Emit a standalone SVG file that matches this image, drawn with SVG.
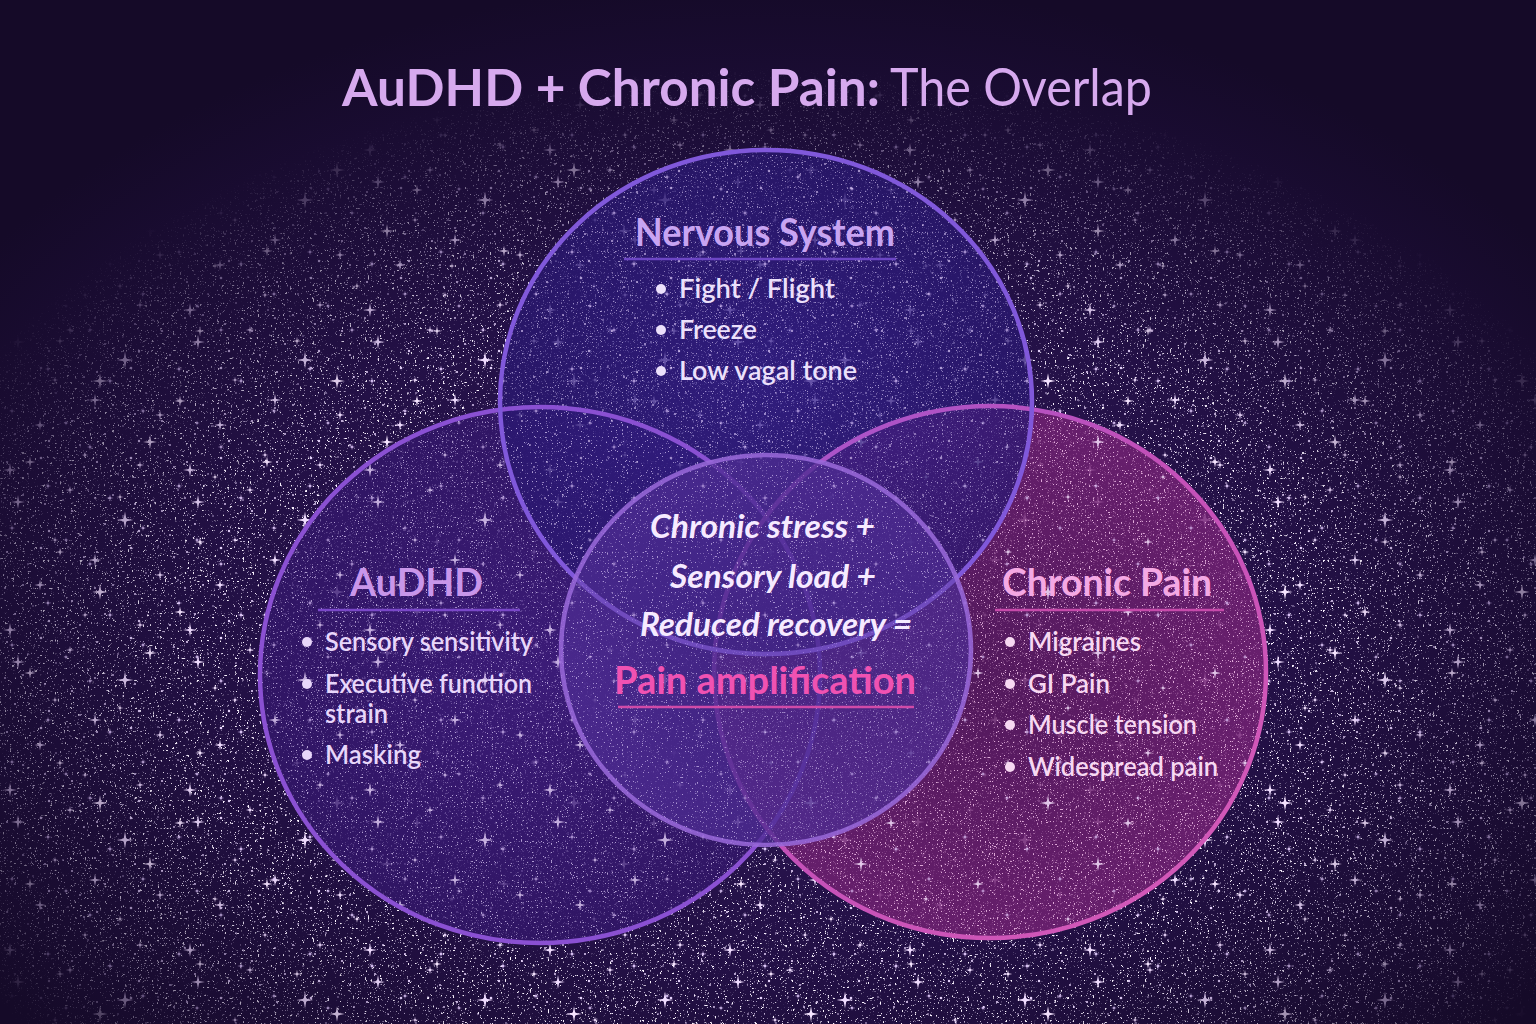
<svg xmlns="http://www.w3.org/2000/svg" xmlns:xlink="http://www.w3.org/1999/xlink" width="1536" height="1024" viewBox="0 0 1536 1024">
<style>
text{font-family:Lato,"Open Sans","Liberation Sans",sans-serif;}
.title{font-size:52px;fill:#d6a9ee;}
.head{font-size:38px;font-weight:700;}
.item{font-size:26px;font-weight:600;}
.mid{font-size:32px;font-weight:700;font-style:italic;fill:#f6eaff;}
.outline{fill:none;stroke-width:4.5;}
</style>
<defs>
  <radialGradient id="bg" cx="0.5" cy="0.6" r="0.62">
    <stop offset="0" stop-color="#2e1856"/>
    <stop offset="0.55" stop-color="#231046"/>
    <stop offset="1" stop-color="#150a28"/>
  </radialGradient>
  <radialGradient id="fade" cx="0.5" cy="0.66" r="0.62">
    <stop offset="0" stop-color="#fff"/>
    <stop offset="0.6" stop-color="#fff"/>
    <stop offset="0.8" stop-color="#888"/>
    <stop offset="0.96" stop-color="#000"/>
  </radialGradient>
  <mask id="starMask"><rect width="1536" height="1024" fill="url(#fade)"/></mask>

  <filter id="glitBg" filterUnits="userSpaceOnUse" x="0" y="0" width="1536" height="1024">
    <feTurbulence type="fractalNoise" baseFrequency="0.7" numOctaves="2" seed="3"/>
    <feColorMatrix type="matrix" values="0 0 0 0 0.86  0 0 0 0 0.76  0 0 0 0 1  12 0 0 0 -8.2"/>
  </filter>
  <filter id="glitCoarse" filterUnits="userSpaceOnUse" x="0" y="0" width="1536" height="1024">
    <feTurbulence type="fractalNoise" baseFrequency="0.4" numOctaves="2" seed="41"/>
    <feColorMatrix type="matrix" values="0 0 0 0 0.96  0 0 0 0 0.9  0 0 0 0 1  16 0 0 0 -11.2"/>
  </filter>
  <filter id="glitPurple" filterUnits="userSpaceOnUse" x="0" y="0" width="1536" height="1024">
    <feTurbulence type="fractalNoise" baseFrequency="0.8" numOctaves="2" seed="17"/>
    <feColorMatrix type="matrix" values="0 0 0 0 0.8  0 0 0 0 0.68  0 0 0 0 1  12 0 0 0 -8.0"/>
  </filter>
  <filter id="glitPink" filterUnits="userSpaceOnUse" x="0" y="0" width="1536" height="1024">
    <feTurbulence type="fractalNoise" baseFrequency="0.75" numOctaves="2" seed="29"/>
    <feColorMatrix type="matrix" values="0 0 0 0 1  0 0 0 0 0.62  0 0 0 0 0.92  12 0 0 0 -7.8"/>
  </filter>

  <g id="sp">
    <path d="M0,-7 L1.1,-1.1 L7,0 L1.1,1.1 L0,7 L-1.1,1.1 L-7,0 L-1.1,-1.1Z"/>
    <circle r="1.8"/>
  </g>
  <pattern id="sparkA" patternUnits="userSpaceOnUse" width="180" height="160">
    <g fill="#f0dcff">
      <use href="#sp" transform="translate(18,22) scale(1)"/>
      <use href="#sp" transform="translate(70,10) scale(0.6)"/>
      <use href="#sp" transform="translate(125,40) scale(1.2)"/>
      <use href="#sp" transform="translate(160,95) scale(0.7)"/>
      <use href="#sp" transform="translate(95,80) scale(0.9)"/>
      <use href="#sp" transform="translate(40,105) scale(0.8)"/>
      <use href="#sp" transform="translate(140,145) scale(0.6)"/>
      <use href="#sp" transform="translate(10,150) scale(1)"/>
      <use href="#sp" transform="translate(85,135) scale(0.5)"/>
      <use href="#sp" transform="translate(55,60) scale(0.5)"/>
    </g>
  </pattern>
  <pattern id="sparkB" patternUnits="userSpaceOnUse" width="237" height="211">
    <g fill="#f6e4ff">
      <use href="#sp" transform="translate(30,40) scale(0.8)"/>
      <use href="#sp" transform="translate(150,20) scale(1)"/>
      <use href="#sp" transform="translate(200,120) scale(0.7)"/>
      <use href="#sp" transform="translate(100,170) scale(1.1)"/>
      <use href="#sp" transform="translate(60,130) scale(0.6)"/>
      <use href="#sp" transform="translate(180,190) scale(0.8)"/>
      <use href="#sp" transform="translate(120,75) scale(0.55)"/>
      <use href="#sp" transform="translate(215,55) scale(0.5)"/>
    </g>
  </pattern>
  <pattern id="sparkC" patternUnits="userSpaceOnUse" width="131" height="117">
    <g fill="#e4ccff">
      <use href="#sp" transform="translate(12,60) scale(0.45)"/>
      <use href="#sp" transform="translate(48,18) scale(0.5)"/>
      <use href="#sp" transform="translate(90,96) scale(0.45)"/>
      <use href="#sp" transform="translate(110,30) scale(0.55)"/>
      <use href="#sp" transform="translate(66,72) scale(0.4)"/>
    </g>
  </pattern>
  <pattern id="dots" patternUnits="userSpaceOnUse" width="90" height="90">
    <g fill="#e6d2fb">
      <circle cx="7" cy="12" r="1.1"/><circle cx="23" cy="45" r="0.9"/><circle cx="41" cy="8" r="1.3"/>
      <circle cx="56" cy="33" r="0.8"/><circle cx="72" cy="61" r="1.1"/><circle cx="84" cy="17" r="0.9"/>
      <circle cx="15" cy="74" r="1"/><circle cx="33" cy="66" r="0.7"/><circle cx="49" cy="81" r="1.2"/>
      <circle cx="63" cy="50" r="0.8"/><circle cx="80" cy="85" r="0.9"/><circle cx="28" cy="24" r="0.8"/>
      <circle cx="5" cy="48" r="0.9"/><circle cx="68" cy="7" r="0.7"/><circle cx="45" cy="54" r="1"/>
      <circle cx="88" cy="40" r="0.8"/>
    </g>
  </pattern>

  <ellipse id="eTop" cx="766" cy="402" rx="266" ry="252"/>
  <ellipse id="eLeft" cx="540" cy="675" rx="280" ry="268"/>
  <ellipse id="eRight" cx="990" cy="672" rx="276" ry="266"/>
  <ellipse id="eCenter" cx="766" cy="650" rx="205" ry="195"/>
  <clipPath id="cTop"><use href="#eTop"/></clipPath>
  <clipPath id="cLeft"><use href="#eLeft"/></clipPath>
  <clipPath id="cRight"><use href="#eRight"/></clipPath>
  <clipPath id="cCenter"><use href="#eCenter"/></clipPath>

  <radialGradient id="gTop" cx="0.5" cy="0.45" r="0.6">
    <stop offset="0" stop-color="#33208e"/>
    <stop offset="1" stop-color="#27166c"/>
  </radialGradient>
  <radialGradient id="gLeft" cx="0.5" cy="0.5" r="0.6">
    <stop offset="0" stop-color="#401d82"/>
    <stop offset="1" stop-color="#301566"/>
  </radialGradient>
  <radialGradient id="gRight" cx="0.45" cy="0.5" r="0.6">
    <stop offset="0" stop-color="#5a195e"/>
    <stop offset="1" stop-color="#7a2378"/>
  </radialGradient>
  <radialGradient id="gCenter" cx="0.5" cy="0.5" r="0.6">
    <stop offset="0" stop-color="#44278a"/>
    <stop offset="1" stop-color="#4e2c92"/>
  </radialGradient>
  <linearGradient id="sRight" x1="0" y1="0" x2="1" y2="1">
    <stop offset="0" stop-color="#a055d0"/>
    <stop offset="0.45" stop-color="#c24fb8"/>
    <stop offset="1" stop-color="#d85ab8"/>
  </linearGradient>
</defs>

<!-- background -->
<rect width="1536" height="1024" fill="url(#bg)"/>
<g mask="url(#starMask)">
  <rect width="1536" height="1024" filter="url(#glitBg)" opacity="0.75"/>
  <rect width="1536" height="1024" filter="url(#glitCoarse)"/>
  <rect width="1536" height="1024" fill="url(#dots)"/>
  <rect width="1536" height="1024" fill="url(#sparkA)"/>
  <rect width="1536" height="1024" fill="url(#sparkB)"/>
  <rect width="1536" height="1024" fill="url(#sparkC)"/>
</g>

<!-- title -->
<g id="title">
  <text class="title" x="342" y="106" font-weight="700" textLength="538" lengthAdjust="spacingAndGlyphs">AuDHD + Chronic Pain:</text>
  <text class="title" x="890" y="106" font-weight="400" textLength="262" lengthAdjust="spacingAndGlyphs">The Overlap</text>
</g>

<!-- nodes -->
<g id="node-audhd">
  <use href="#eLeft" fill="url(#gLeft)" opacity="0.8"/>
  <g clip-path="url(#cLeft)">
    <rect x="250" y="400" width="580" height="550" filter="url(#glitPurple)" opacity="0.7"/>
    <rect x="250" y="400" width="580" height="550" fill="url(#sparkA)" opacity="0.7"/>
    <rect x="250" y="400" width="580" height="550" fill="url(#sparkC)" opacity="0.6"/>
  </g>
  <text class="head" x="350" y="596" fill="#c996ea" textLength="133" lengthAdjust="spacingAndGlyphs">AuDHD</text>
  <line x1="318" y1="610" x2="520" y2="610" stroke="#7a48c8" stroke-width="2.5"/>
  <g fill="#e8d6fa">
    <circle cx="307" cy="642" r="5"/><circle cx="307" cy="684" r="5"/><circle cx="307" cy="755" r="5"/>
    <text class="item" x="325" y="651" textLength="208" lengthAdjust="spacingAndGlyphs">Sensory sensitivity</text>
    <text class="item" x="325" y="693" textLength="207" lengthAdjust="spacingAndGlyphs">Executive function</text>
    <text class="item" x="325" y="723" textLength="63" lengthAdjust="spacingAndGlyphs">strain</text>
    <text class="item" x="325" y="764" textLength="96" lengthAdjust="spacingAndGlyphs">Masking</text>
  </g>
</g>

<g id="node-chronic-pain">
  <use href="#eRight" fill="url(#gRight)" opacity="0.82"/>
  <g clip-path="url(#cRight)">
    <rect x="710" y="400" width="560" height="545" filter="url(#glitPink)" opacity="0.8"/>
    <rect x="710" y="400" width="560" height="545" fill="url(#sparkB)" opacity="0.8"/>
    <rect x="710" y="400" width="560" height="545" fill="url(#sparkC)" opacity="0.7"/>
  </g>
  <text class="head" x="1002" y="596" fill="#f4a8e4" textLength="210" lengthAdjust="spacingAndGlyphs">Chronic Pain</text>
  <line x1="995" y1="610" x2="1224" y2="610" stroke="#c64aaa" stroke-width="2.5"/>
  <g fill="#f7d8f2">
    <circle cx="1010" cy="642" r="5"/><circle cx="1010" cy="684" r="5"/><circle cx="1010" cy="725" r="5"/><circle cx="1010" cy="767" r="5"/>
    <text class="item" x="1028" y="651" textLength="113" lengthAdjust="spacingAndGlyphs">Migraines</text>
    <text class="item" x="1028" y="693" textLength="82" lengthAdjust="spacingAndGlyphs">GI Pain</text>
    <text class="item" x="1028" y="734" textLength="169" lengthAdjust="spacingAndGlyphs">Muscle tension</text>
    <text class="item" x="1028" y="776" textLength="190" lengthAdjust="spacingAndGlyphs">Widespread pain</text>
  </g>
</g>

<g id="node-nervous-system">
  <use href="#eTop" fill="url(#gTop)" opacity="0.74"/>
  <g clip-path="url(#cTop)">
    <rect x="495" y="145" width="540" height="515" filter="url(#glitPurple)" opacity="0.6"/>
    <rect x="495" y="145" width="540" height="515" fill="url(#dots)" opacity="0.6"/>
    <rect x="495" y="145" width="540" height="515" fill="url(#sparkC)" opacity="0.6"/>
  </g>
  <text class="head" x="635" y="246" fill="#c8a4f2" textLength="260" lengthAdjust="spacingAndGlyphs">Nervous System</text>
  <line x1="624" y1="259" x2="896" y2="259" stroke="#6c46c4" stroke-width="2.5"/>
  <g fill="#ece0fb">
    <circle cx="661" cy="289" r="5"/><circle cx="661" cy="330" r="5"/><circle cx="661" cy="371" r="5"/>
    <text class="item" x="679" y="298" textLength="156" lengthAdjust="spacingAndGlyphs">Fight / Flight</text>
    <text class="item" x="679" y="339" textLength="78" lengthAdjust="spacingAndGlyphs">Freeze</text>
    <text class="item" x="679" y="380" textLength="178" lengthAdjust="spacingAndGlyphs">Low vagal tone</text>
  </g>
</g>

<!-- circle outlines -->
<g id="connectors">
  <use href="#eLeft" class="outline" stroke="#8a50d2"/>
  <use href="#eRight" class="outline" stroke="url(#sRight)"/>
  <use href="#eTop" class="outline" stroke="#8058da"/>
</g>

<g id="node-overlap">
  <use href="#eCenter" fill="url(#gCenter)" opacity="0.78"/>
  <g clip-path="url(#cCenter)">
    <rect x="560" y="455" width="412" height="392" filter="url(#glitPurple)" opacity="0.55"/>
    <rect x="560" y="455" width="412" height="392" fill="url(#sparkC)" opacity="0.5"/>
    <use href="#eTop" class="outline" stroke="#8a62dc" opacity="0.5"/>
  </g>
  <use href="#eCenter" class="outline" stroke="#9a6ada" stroke-opacity="0.85"/>
  <text class="mid" x="650" y="538" textLength="225" lengthAdjust="spacingAndGlyphs">Chronic stress +</text>
  <text class="mid" x="670" y="588" textLength="206" lengthAdjust="spacingAndGlyphs">Sensory load +</text>
  <text class="mid" x="640" y="636" textLength="272" lengthAdjust="spacingAndGlyphs">Reduced recovery =</text>
  <text x="614" y="694" font-size="38" font-weight="700" fill="#f052b2" textLength="302" lengthAdjust="spacingAndGlyphs">Pain amplification</text>
  <line x1="618" y1="707" x2="914" y2="707" stroke="#d04aa8" stroke-width="2.5"/>
</g>
</svg>
